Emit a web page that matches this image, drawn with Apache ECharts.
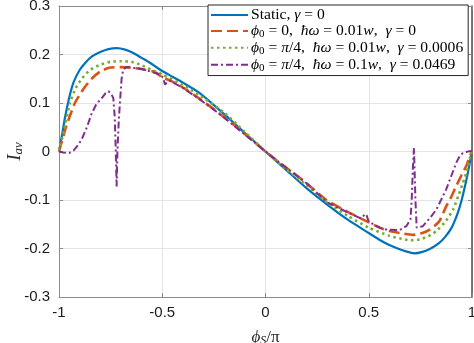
<!DOCTYPE html>
<html>
<head>
<meta charset="utf-8">
<script src="https://cdn.jsdelivr.net/npm/echarts@6/dist/echarts.min.js"></script>
<style>
  html, body { margin: 0; padding: 0; background: #fff; }
  #chart { width: 474px; height: 343px; }
</style>
</head>
<body>
<div id="chart"></div>
<script>
// Average current I_av versus superconducting phase difference phi_S / pi

// Static junction, gamma = 0
const staticX = [-1, -0.985, -0.97, -0.95, -0.93, -0.9, -0.87, -0.84, -0.8, -0.76, -0.72, -0.68, -0.64, -0.6, -0.56, -0.5, -0.45, -0.4, -0.32, -0.2, -0.1, 0,
  0.1, 0.2, 0.31, 0.4, 0.5, 0.56, 0.6, 0.64, 0.68, 0.72, 0.76, 0.8, 0.84, 0.87, 0.9, 0.93, 0.95, 0.97, 0.985, 1];
const staticY = [0, 0.035, 0.072, 0.112, 0.142, 0.168, 0.184, 0.196, 0.205, 0.211, 0.213, 0.21, 0.203, 0.193, 0.183, 0.166, 0.154, 0.142, 0.121, 0.077, 0.038, 0,
  -0.038, -0.076, -0.113, -0.141, -0.168, -0.184, -0.193, -0.2, -0.206, -0.21, -0.207, -0.2, -0.189, -0.176, -0.158, -0.128, -0.1, -0.064, -0.033, 0];

// phi0 = 0, hbar*omega = 0.01w, gamma = 0
const drive1X = [-1, -0.97, -0.95, -0.923, -0.88, -0.842, -0.8, -0.753, -0.7, -0.65, -0.6, -0.536, -0.5, -0.46, -0.4, -0.32, -0.24, -0.16, -0.08, 0,
  0.08, 0.134, 0.2, 0.295, 0.4, 0.456, 0.5, 0.553, 0.6, 0.65, 0.714, 0.76, 0.795, 0.84, 0.875, 0.9, 0.924, 0.95, 0.972, 0.99, 1];
const drive1Y = [0, 0.045, 0.07, 0.1, 0.13, 0.15, 0.165, 0.173, 0.174, 0.173, 0.17, 0.164, 0.153, 0.146, 0.132, 0.109, 0.084, 0.057, 0.029, 0,
  -0.027, -0.044, -0.066, -0.1, -0.125, -0.137, -0.146, -0.157, -0.164, -0.168, -0.172, -0.168, -0.161, -0.145, -0.113, -0.093, -0.071, -0.048, -0.03, -0.01, 0];

// phi0 = pi/4, hbar*omega = 0.01w, gamma = 0.0006
const drive2X = [-1, -0.97, -0.947, -0.92, -0.89, -0.85, -0.8, -0.75, -0.7, -0.65, -0.6, -0.55, -0.5, -0.4, -0.32, -0.2, -0.1, 0,
  0.1, 0.2, 0.3, 0.4, 0.5, 0.6, 0.65, 0.698, 0.75, 0.8, 0.827, 0.87, 0.908, 0.935, 0.956, 0.975, 0.995, 1];
const drive2Y = [0, 0.055, 0.1, 0.13, 0.15, 0.168, 0.179, 0.185, 0.186, 0.185, 0.178, 0.168, 0.159, 0.137, 0.116, 0.08, 0.04, 0,
  -0.037, -0.07, -0.105, -0.133, -0.157, -0.174, -0.179, -0.183, -0.181, -0.172, -0.164, -0.145, -0.12, -0.09, -0.065, -0.04, -0.005, 0];

// phi0 = pi/4, hbar*omega = 0.1w, gamma = 0.0469
const drive3X = [-1, -0.98, -0.95, -0.93, -0.91, -0.89, -0.865, -0.842, -0.82, -0.793, -0.775, -0.761, -0.748, -0.737, -0.73, -0.725, -0.721, -0.717, -0.711, -0.705, -0.697, -0.689, -0.673, -0.65, -0.6, -0.55, -0.511, -0.495, -0.487, -0.475, -0.463, -0.4, -0.32, -0.24, -0.16, -0.08, 0,
  0.08, 0.134, 0.2, 0.295, 0.4, 0.456, 0.47, 0.48, 0.49, 0.5, 0.553, 0.585, 0.65, 0.682, 0.702, 0.708, 0.713, 0.719, 0.722, 0.726, 0.732, 0.74, 0.762, 0.8, 0.827, 0.85, 0.875, 0.9, 0.924, 0.94, 0.956, 0.98, 1];
const drive3Y = [0, -0.002, -0.003, 0.002, 0.012, 0.025, 0.05, 0.078, 0.097, 0.11, 0.12, 0.124, 0.12, 0.11, 0.07, 0, -0.072, 0, 0.06, 0.1, 0.15, 0.169, 0.174, 0.173, 0.17, 0.164, 0.159, 0.152, 0.138, 0.143, 0.146, 0.131, 0.108, 0.083, 0.056, 0.028, 0,
  -0.027, -0.044, -0.066, -0.104, -0.126, -0.137, -0.136, -0.129, -0.132, -0.145, -0.157, -0.161, -0.162, -0.154, -0.14, -0.1, -0.04, 0.007, -0.04, -0.1, -0.157, -0.16, -0.154, -0.135, -0.12, -0.1, -0.078, -0.05, -0.023, -0.01, -0.003, 0, 0.001];

// Axis ticks
const xTicks = [-1, -0.5, 0, 0.5, 1];
const yTicks = [-0.3, -0.2, -0.1, 0, 0.1, 0.2, 0.3];

const seriesNames = ['static', 'd1', 'd2', 'd3'];
const legendText = {
  static: '{t|Static, }{i|γ}{t| = 0}',
  d1: '{i|ϕ}{s|0}{t| = 0,  }{i|ħω}{t| = 0.01}{i|w}{t|,  }{i|γ}{t| = 0}',
  d2: '{i|ϕ}{s|0}{t| = }{i|π}{t|/4,  }{i|ħω}{t| = 0.01}{i|w}{t|,  }{i|γ}{t| = 0.0006}',
  d3: '{i|ϕ}{s|0}{t| = }{i|π}{t|/4,  }{i|ħω}{t| = 0.1}{i|w}{t|,  }{i|γ}{t| = 0.0469}'
};

function pairs(xs, ys) { return xs.map((x, i) => [x, ys[i]]); }

const serif = 'Liberation Serif';
const sans = 'Liberation Sans';
const richText = {
  t: { fontFamily: serif, fontSize: 15.6, lineHeight: 17.7, color: '#000' },
  i: { fontFamily: serif, fontSize: 15.6, fontStyle: 'italic', lineHeight: 17.7, color: '#000' },
  s: { fontFamily: serif, fontSize: 11, lineHeight: 9, verticalAlign: 'bottom', color: '#000' }
};

const axisGrey = '#8c8c8c';
const chart = echarts.init(document.getElementById('chart'), null, { renderer: 'canvas' });

chart.setOption({
  animation: false,
  backgroundColor: '#fff',
  grid: { left: 59, right: 2, top: 6, bottom: 46, containLabel: false, outerBoundsMode: 'none' },
  legend: {
    data: seriesNames,
    orient: 'vertical',
    left: 208,
    top: 5,
    itemWidth: 37,
    itemHeight: 14,
    itemGap: 0,
    padding: [2, 5, 2, 2],
    borderColor: '#262626',
    borderWidth: 1,
    backgroundColor: '#fff',
    itemStyle: { color: 'rgba(0,0,0,0)', borderWidth: 0, opacity: 0 },
    formatter: name => legendText[name],
    textStyle: { rich: richText, padding: [0, 0, 0, -2] }
  },
  xAxis: [{
    type: 'value', min: -1, max: 1, interval: 0.5,
    position: 'bottom',
    name: '{i|ϕ}{s|S}{t|/π}',
    nameLocation: 'middle',
    nameMoveOverlap: false,
    nameGap: 32,
    nameTextStyle: { rich: {
      t: { fontFamily: serif, fontSize: 17, lineHeight: 18, color: '#262626' },
      i: { fontFamily: serif, fontSize: 17, fontStyle: 'italic', lineHeight: 18, color: '#262626' },
      s: { fontFamily: serif, fontSize: 12, fontStyle: 'italic', lineHeight: 10, verticalAlign: 'bottom', color: '#262626' }
    } },
    axisLine: { show: true, onZero: false, lineStyle: { color: axisGrey, width: 1 } },
    axisTick: { show: true, inside: true, length: 4, lineStyle: { color: axisGrey } },
    axisLabel: { color: '#1a1a1a', fontFamily: sans, fontSize: 15, margin: 8,
      formatter: v => String(xTicks.find(t => Math.abs(t - v) < 1e-9) ?? v) },
    splitLine: { show: true, lineStyle: { color: '#e4e4e4', width: 1 } }
  }, {
    type: 'value', min: -1, max: 1, interval: 0.5,
    position: 'top',
    axisLine: { show: true, onZero: false, lineStyle: { color: axisGrey, width: 1 } },
    axisTick: { show: true, inside: true, length: 4, lineStyle: { color: axisGrey } },
    axisLabel: { show: false },
    splitLine: { show: false }
  }],
  yAxis: [{
    type: 'value', min: -0.3, max: 0.3, interval: 0.1,
    position: 'left',
    name: '{i|I}{s|av}',
    nameLocation: 'middle',
    nameMoveOverlap: false,
    nameRotate: 90,
    nameGap: 34,
    nameTextStyle: { rich: {
      i: { fontFamily: serif, fontSize: 19, fontStyle: 'italic', lineHeight: 20, color: '#262626' },
      s: { fontFamily: serif, fontSize: 13, fontStyle: 'italic', lineHeight: 10, verticalAlign: 'bottom', color: '#262626' }
    } },
    axisLine: { show: true, onZero: false, lineStyle: { color: axisGrey, width: 1 } },
    axisTick: { show: true, inside: true, length: 4, lineStyle: { color: axisGrey } },
    axisLabel: { color: '#1a1a1a', fontFamily: sans, fontSize: 15, margin: 9,
      formatter: v => String(yTicks.find(t => Math.abs(t - v) < 1e-9) ?? v) },
    splitLine: { show: true, lineStyle: { color: '#e4e4e4', width: 1 } }
  }, {
    type: 'value', min: -0.3, max: 0.3, interval: 0.1,
    position: 'right',
    axisLine: { show: true, onZero: false, lineStyle: { color: '#4a4a4a', width: 1.5 } },
    axisTick: { show: true, inside: true, length: 4, lineStyle: { color: axisGrey } },
    axisLabel: { show: false },
    splitLine: { show: false }
  }],
  series: [
    { name: 'static', type: 'line', data: pairs(staticX, staticY), symbol: 'none', smooth: 0.2,
      lineStyle: { color: '#0072BD', width: 2.2 }, itemStyle: { color: '#0072BD' }, z: 2 },
    { name: 'd1', type: 'line', data: pairs(drive1X, drive1Y), symbol: 'none', smooth: 0.2,
      lineStyle: { color: '#D95319', width: 2.6, type: [11, 5] }, itemStyle: { color: '#D95319' }, z: 3 },
    { name: 'd2', type: 'line', data: pairs(drive2X, drive2Y), symbol: 'none', smooth: 0.2,
      lineStyle: { color: '#77AC30', width: 2.6, type: [2.5, 3.5] }, itemStyle: { color: '#77AC30' }, z: 4 },
    { name: 'd3', type: 'line', data: pairs(drive3X, drive3Y), symbol: 'none', smooth: false,
      lineStyle: { color: '#7E2F8E', width: 2, type: [7, 3, 2, 3] }, itemStyle: { color: '#7E2F8E' }, z: 5 }
  ]
});
</script>
</body>
</html>
